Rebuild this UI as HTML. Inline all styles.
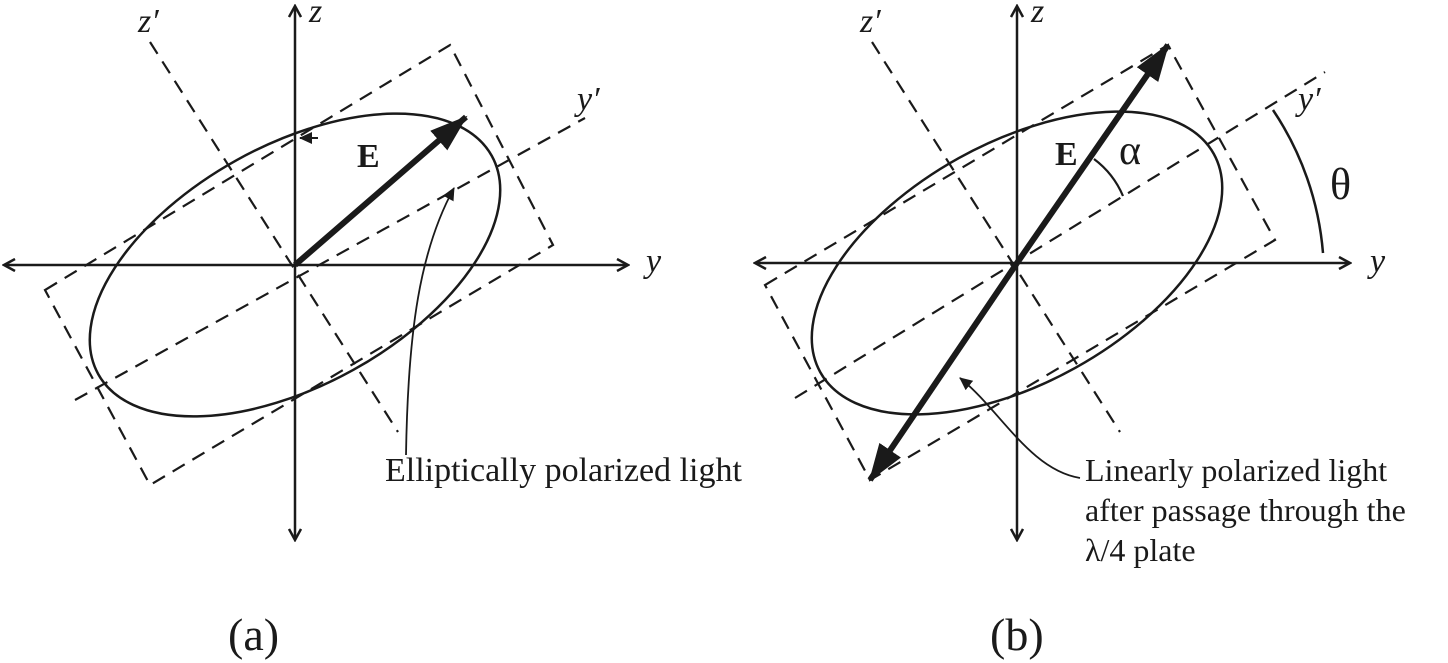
<!DOCTYPE html>
<html><head><style>body{margin:0;background:#fff}svg{display:block}</style></head><body>
<svg width="1448" height="663" viewBox="0 0 1448 663" xmlns="http://www.w3.org/2000/svg" font-family="Liberation Serif, serif" fill="none" stroke="#1a1a1a">
<defs>
<marker id="chev" markerWidth="14" markerHeight="14" refX="12" refY="7" orient="auto" markerUnits="userSpaceOnUse"><path d="M1,1 L12,7 L1,13" stroke="#1a1a1a" stroke-width="2.5" fill="none"/></marker>
<marker id="big" markerWidth="40" markerHeight="30" refX="36" refY="15" orient="auto" markerUnits="userSpaceOnUse"><path d="M0,2 L38,15 L0,28 Z" fill="#1a1a1a" stroke="none"/></marker>
<marker id="sm" markerWidth="14" markerHeight="12" refX="12" refY="6" orient="auto" markerUnits="userSpaceOnUse"><path d="M0,0 L13,6 L0,12 Z" fill="#1a1a1a" stroke="none"/></marker>
</defs>
<!-- Panel a -->
<g stroke-width="2.5">
<line x1="295" y1="265" x2="295" y2="6" marker-end="url(#chev)"/>
<line x1="295" y1="265" x2="295" y2="540" marker-end="url(#chev)"/>
<line x1="295" y1="265" x2="628" y2="265" marker-end="url(#chev)"/>
<line x1="295" y1="265" x2="4" y2="265" marker-end="url(#chev)"/>
</g>
<g stroke-width="2.2" stroke-dasharray="14,9">
<line x1="75" y1="400" x2="585" y2="118"/>
<line x1="150" y1="42" x2="398" y2="432"/>
<polygon points="45,290 450,45 553,245 150,485"/>
</g>
<ellipse cx="0" cy="0" rx="225" ry="120" transform="translate(295,265) rotate(-29)" stroke-width="2.5"/>
<line x1="295" y1="265" x2="466" y2="117" stroke-width="6" marker-end="url(#big)"/>
<path d="M318,138 L300,138" stroke-width="2" marker-end="url(#sm)"/>
<path d="M406,455 C 408,330 420,250 454,188" stroke-width="1.8" marker-end="url(#sm)"/>
<!-- Panel b -->
<g stroke-width="2.5">
<line x1="1017" y1="263" x2="1017" y2="6" marker-end="url(#chev)"/>
<line x1="1017" y1="263" x2="1017" y2="540" marker-end="url(#chev)"/>
<line x1="1017" y1="263" x2="1350" y2="263" marker-end="url(#chev)"/>
<line x1="1017" y1="263" x2="755" y2="263" marker-end="url(#chev)"/>
</g>
<g stroke-width="2.2" stroke-dasharray="14,9">
<line x1="795" y1="398" x2="1325" y2="72"/>
<line x1="872" y1="42" x2="1120" y2="432"/>
<polygon points="765,285 1168,45 1275,240 870,480"/>
</g>
<ellipse cx="0" cy="0" rx="225" ry="120" transform="translate(1017,263) rotate(-29)" stroke-width="2.5"/>
<line x1="1017" y1="263" x2="1168" y2="45" stroke-width="6" marker-end="url(#big)"/>
<line x1="1017" y1="263" x2="870" y2="480" stroke-width="6" marker-end="url(#big)"/>
<path d="M1094,159 A 90 90 0 0 1 1123,196" stroke-width="2.2"/>
<path d="M1273,110 A 300 300 0 0 1 1323,253" stroke-width="2.5"/>
<path d="M1080,478 C 1030,470 1000,410 960,378" stroke-width="1.8" marker-end="url(#sm)"/>
<!-- Text -->
<g fill="#1a1a1a" stroke="none" font-size="34">
<text x="309" y="22" font-style="italic">z</text>
<text x="646" y="272" font-style="italic">y</text>
<text x="138" y="32" font-style="italic">z′</text>
<text x="577" y="110" font-style="italic">y′</text>
<text x="357" y="167" font-weight="bold">E</text>
<text x="385" y="481" font-size="34">Elliptically polarized light</text>
<text x="1031" y="22" font-style="italic">z</text>
<text x="1370" y="272" font-style="italic">y</text>
<text x="860" y="32" font-style="italic">z′</text>
<text x="1298" y="110" font-style="italic">y′</text>
<text x="1055" y="165" font-weight="bold">E</text>
<text x="1119" y="164" font-size="42">α</text>
<text x="1330" y="199" font-size="44">θ</text>
<text x="1085" y="481" font-size="32">Linearly polarized light</text>
<text x="1085" y="521" font-size="32">after passage through the</text>
<text x="1085" y="561" font-size="32">λ/4 plate</text>
<text x="228" y="650" font-size="46">(a)</text>
<text x="990" y="650" font-size="46">(b)</text>
</g>
</svg>
</body></html>
